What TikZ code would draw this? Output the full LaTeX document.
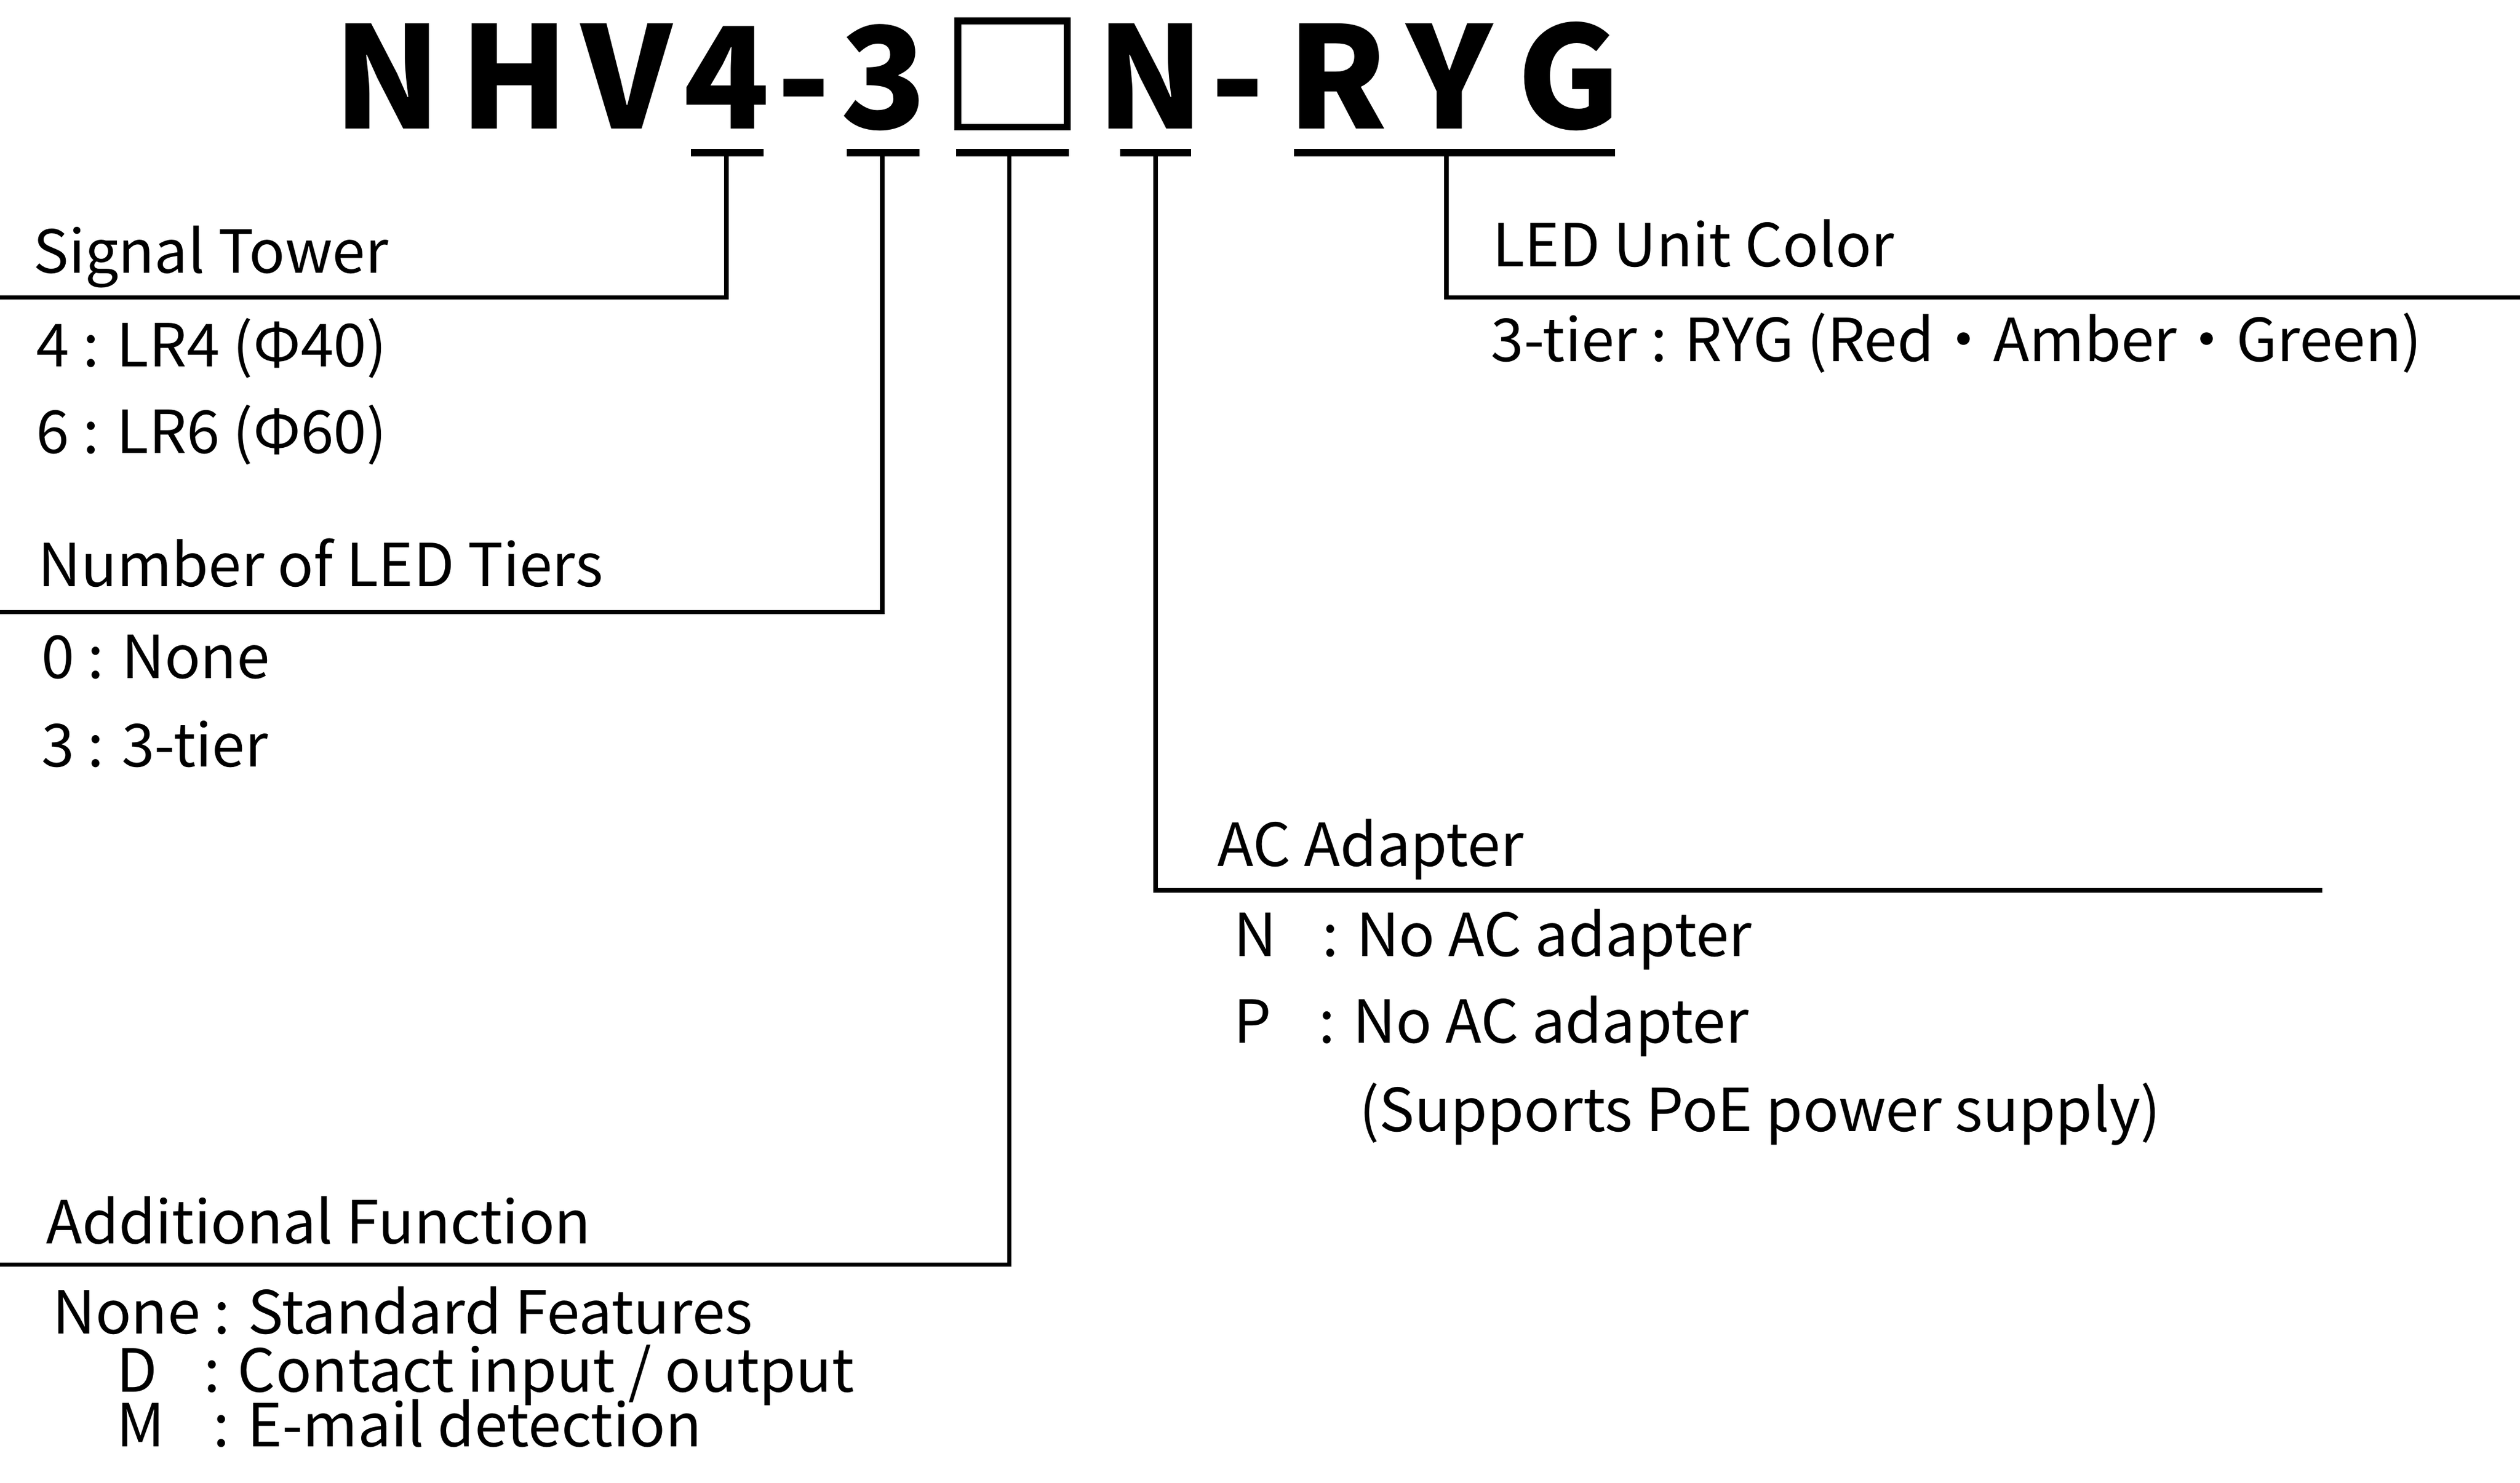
\documentclass[tikz,border=0pt]{standalone}
\usepackage{fontspec}
\setmainfont{Noto Sans CJK JP}
\begin{document}
\begin{tikzpicture}[x=0.01cm,y=-0.01cm,
  t/.style={anchor=base west,inner sep=0,font=\fontsize{10.5}{12}\selectfont},
  ti/.style={anchor=base,inner sep=0,font=\fontsize{25}{28}\selectfont\bfseries},
  ld/.style={line width=0.75pt},
  ul/.style={line width=1.4pt}]
\useasboundingbox (0,0) rectangle (1568,922.7);
% title
\foreach \c/\x/\n in {N/241/a,H/320/b,V/390/c,4/452/d,-/500/e,3/550/f,N/716/g,-/770/h,R/832/i,Y/902/j,G/976/k}
  \node[ti] (t\n) at (\x,80) {\c};
\node[draw,line width=1.2pt,minimum width=0.68cm,minimum height=0.66cm,inner sep=0] (box) at (630,46) {};
% underlines
\coordinate (u1) at (452,95); \coordinate (u2) at (549,95); \coordinate (u3) at (628,95);
\coordinate (u4) at (719,95); \coordinate (u5) at (900,95);
\draw[ul] (430,95) -- (475,95); \draw[ul] (527,95) -- (572,95);
\draw[ul] (595,95) -- (665,95); \draw[ul] (697,95) -- (741,95);
\draw[ul] (805,95) -- (1005,95);
% leaders
\coordinate (e1) at (0,185); \coordinate (e2) at (0,381); \coordinate (e3) at (0,787);
\coordinate (e4) at (1445,554); \coordinate (e5) at (1568,185);
\draw[ld] (u1) |- (e1);
\draw[ld] (u2) |- (e2);
\draw[ld] (u3) |- (e3);
\draw[ld] (u4) |- (e4);
\draw[ld] (u5) |- (e5);
% texts
\node[t] (s1) at (20,170) {Signal Tower};
\node[t] (s2) at (22,228) {4 : LR4 (Φ40)};
\node[t] (s3) at (22,282) {6 : LR6 (Φ60)};
\node[t] (n1) at (23,365) {Number of LED Tiers};
\node[t] (n2) at (25,422) {0 : None};
\node[t] (n3) at (25,477) {3 : 3-tier};
\node[t] (a1) at (28,774) {Additional Function};
\node[t] (a2) at (32,830) {None : Standard Features};
\node[t] (a3) at (72,866) {D};
\node[t] (a4) at (126,866) {: Contact input / output};
\node[t] (a5) at (72,900) {M};
\node[t] (a6) at (132,900) {: E-mail detection};
\node[t] (c1) at (757,539) {AC Adapter};
\node[t] (c2) at (767,595) {N};
\node[t] (c3) at (822,595) {: No AC adapter};
\node[t] (c4) at (767,649) {P};
\node[t] (c5) at (820,649) {: No AC adapter};
\node[t] (c6) at (845,704) {(Supports PoE power supply)};
\node[t] (l1) at (928,166) {LED Unit Color};
\node[t] (l2) at (927,225) {3-tier : RYG (Red・Amber・Green)};
\end{tikzpicture}
\end{document}
